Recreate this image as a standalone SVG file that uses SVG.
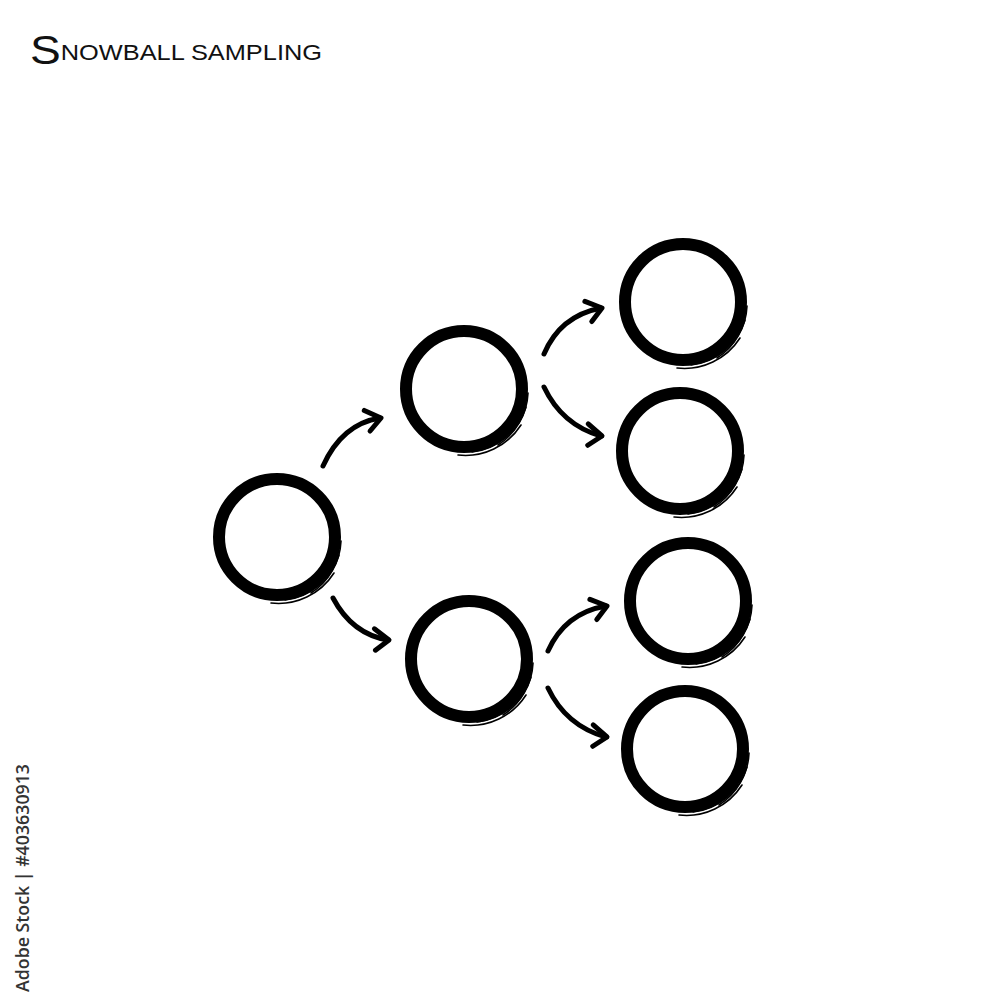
<svg xmlns="http://www.w3.org/2000/svg" width="1000" height="1000" viewBox="0 0 1000 1000">
<defs>
<style>
.ring{fill:none;stroke:#000;stroke-width:12}
.brush{fill:none;stroke:#000;stroke-width:1.6;stroke-linecap:round}
.arr{fill:none;stroke:#000;stroke-width:5;stroke-linecap:round;stroke-linejoin:round}
.title{font-family:"Liberation Sans","DejaVu Sans",sans-serif;fill:#111}
</style>
<g id="ringshape">
<circle class="ring" cx="0" cy="0" r="58"/>
<path class="brush" d="M62,18 A64,64 0 0 1 8,63"/>
<path class="brush" d="M64,4 A65,65 0 0 1 34,56"/>
<path class="brush" d="M57,36 A66,66 0 0 1 -6,66"/>
</g>
<g id="head"><path class="arr" d="M-16,-9 L0,0 L-12,12"/></g>
</defs>
<rect width="1000" height="1000" fill="#fff"/>
<text class="title" x="30" y="64" textLength="292" lengthAdjust="spacingAndGlyphs"><tspan font-size="40">S</tspan><tspan font-size="22" dy="-4">NOWBALL SAMPLING</tspan></text>
<text x="29" y="992" transform="rotate(-90 29 992)" font-family="'Open Sans','Noto Sans',sans-serif" font-weight="600" font-size="18" fill="#333" textLength="228" lengthAdjust="spacingAndGlyphs">Adobe Stock | #403630913</text>
<g id="node-root"><use href="#ringshape" x="277" y="537"/></g>
<g id="node-mid1"><use href="#ringshape" x="464" y="389"/></g>
<g id="node-mid2"><use href="#ringshape" x="469" y="659"/></g>
<g id="node-leaf1"><use href="#ringshape" x="683" y="302"/></g>
<g id="node-leaf2"><use href="#ringshape" x="680" y="451"/></g>
<g id="node-leaf3"><use href="#ringshape" x="688" y="601"/></g>
<g id="node-leaf4"><use href="#ringshape" x="685" y="749"/></g>
<g id="connectors">
<path class="arr" d="M323,466 Q342,424 380,418"/>
<use href="#head" transform="translate(381,418) rotate(-5)"/>
<path class="arr" d="M333,598 Q352,634 388,640"/>
<use href="#head" transform="translate(389,640) rotate(8)"/>
<path class="arr" d="M544,354 Q560,316 601,308"/>
<use href="#head" transform="translate(602,308) rotate(-8)"/>
<path class="arr" d="M544,387 Q562,425 601,436"/>
<use href="#head" transform="translate(602,436) rotate(12)"/>
<path class="arr" d="M548,651 Q565,613 606,606"/>
<use href="#head" transform="translate(607,606) rotate(-8)"/>
<path class="arr" d="M548,688 Q566,726 606,737"/>
<use href="#head" transform="translate(607,737) rotate(12)"/>
</g>
</svg>
